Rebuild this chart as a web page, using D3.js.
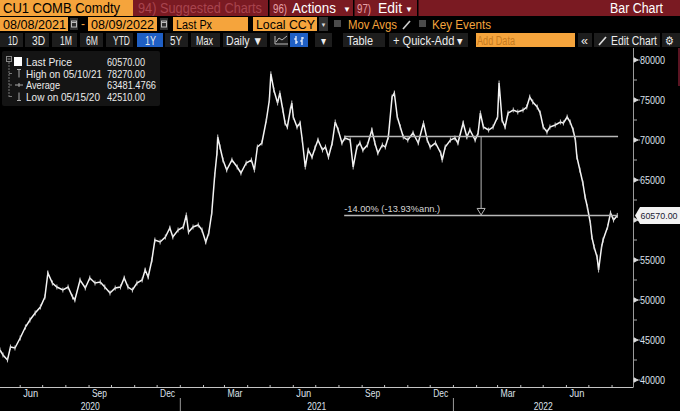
<!DOCTYPE html>
<html><head><meta charset="utf-8">
<script src="https://cdn.jsdelivr.net/npm/d3@7"></script>
<style>
html,body{margin:0;padding:0;background:#000;overflow:hidden;}
svg{display:block;}
text{font-family:"Liberation Sans",Arial,sans-serif;}
</style></head><body>
<svg id="c" width="680" height="411"></svg>
<script>
// ---------------- DATA ----------------
const dates = ["2020-05-05","2020-05-09","2020-05-15","2020-05-19","2020-05-25","2020-06-01","2020-06-08","2020-06-14","2020-06-21","2020-06-28",
"2020-07-04","2020-07-08","2020-07-14","2020-07-20","2020-07-28","2020-08-04","2020-08-10","2020-08-13","2020-08-20","2020-08-27",
"2020-09-02","2020-09-09","2020-09-16","2020-09-22","2020-09-29","2020-10-06","2020-10-13","2020-10-18","2020-10-23","2020-10-29",
"2020-11-04","2020-11-11","2020-11-15","2020-11-19","2020-11-24","2020-11-28","2020-12-05","2020-12-12","2020-12-18","2020-12-22",
"2020-12-29","2021-01-05","2021-01-09","2021-01-12","2021-01-18","2021-01-25","2021-01-30","2021-02-04","2021-02-08","2021-02-12",
"2021-02-16","2021-02-19","2021-02-20","2021-02-23","2021-02-27","2021-03-04","2021-03-11","2021-03-18","2021-03-23","2021-03-30",
"2021-04-06","2021-04-10","2021-04-14","2021-04-20","2021-04-26","2021-04-30","2021-05-02","2021-05-06","2021-05-11","2021-05-14",
"2021-05-18","2021-05-21","2021-05-24","2021-05-28","2021-05-30","2021-06-01","2021-06-06","2021-06-10","2021-06-13","2021-06-17",
"2021-06-21","2021-06-26","2021-06-30","2021-07-04","2021-07-10","2021-07-14","2021-07-18","2021-07-23","2021-07-27","2021-07-31",
"2021-08-05","2021-08-09","2021-08-16","2021-08-20","2021-08-25","2021-08-29","2021-09-02","2021-09-08","2021-09-14","2021-09-18",
"2021-09-22","2021-09-28","2021-10-02","2021-10-06","2021-10-11","2021-10-14","2021-10-18","2021-10-22","2021-10-26","2021-11-01",
"2021-11-08","2021-11-15","2021-11-22","2021-11-27","2021-12-01","2021-12-08","2021-12-15","2021-12-17","2021-12-21","2021-12-28",
"2022-01-03","2022-01-07","2022-01-14","2022-01-19","2022-01-23","2022-01-30","2022-02-03","2022-02-06","2022-02-10","2022-02-17",
"2022-02-23","2022-03-01","2022-03-03","2022-03-07","2022-03-11","2022-03-15","2022-03-22","2022-03-28","2022-04-04","2022-04-09",
"2022-04-13","2022-04-17","2022-04-23","2022-04-27","2022-05-01","2022-05-06","2022-05-10","2022-05-17","2022-05-24","2022-05-28",
"2022-06-02","2022-06-06","2022-06-10","2022-06-13","2022-06-15","2022-06-19","2022-06-23","2022-06-26","2022-06-29","2022-07-03",
"2022-07-05","2022-07-08","2022-07-12","2022-07-14","2022-07-18","2022-07-20","2022-07-26","2022-07-30","2022-08-03","2022-08-08"];
const prices = [43750,43125,42510,44125,44000,45250,46625,47500,48375,49125,
50375,53375,52125,51625,51250,51625,50375,50000,52500,51500,
52750,52125,52250,51625,50875,51500,51625,52750,51625,51250,
52125,52500,53750,52875,55000,57500,57250,57875,59000,57875,
58750,59125,60625,58500,59125,59375,58750,57250,58375,60875,
65625,68375,70375,69125,67500,66250,67500,66625,65875,67125,
67500,66250,69125,69625,72500,75000,78270,76250,74625,75875,
73750,72125,71625,73750,74625,72875,71625,72125,70000,66625,
68750,67875,69000,70000,68750,69125,67875,69625,72250,71250,
69625,70250,70000,66625,69125,69625,68750,69375,71250,69625,
68375,69375,69125,70375,75375,75875,72875,71625,70375,70000,
70875,69625,72125,70000,69125,69625,68375,67500,69125,70000,
70250,69625,72125,70375,71250,70000,70875,73375,71625,71250,
71625,72875,77125,72500,71625,73375,73750,73500,73750,74125,
75375,74750,74125,73375,71625,71000,71625,71875,72250,72125,
72875,72250,71250,70000,67875,66250,64625,62875,61625,59625,
57875,56625,55375,53750,56625,57500,59125,60875,60000,60570];
const yTicks = [40000,45000,50000,55000,60000,65000,70000,75000,80000];
const yMinorTicks = [42500,47500,52500,57500,62500,67500,72500,77500];
const years = [2020,2021,2022];
const legendLabels = ["Last Price","High on 05/10/21","Average","Low on 05/15/20"];
const legendValues = ["60570.00","78270.00","63481.4766","42510.00"];
const rangeStart = "2021-08-08", rangeEnd = "2022-08-09";
const startPrice = 70430, lastPrice = 60570;
const lastPriceLabel = "60570.00";
const changeLabel = "-14.00% (-13.93%ann.)";

// ---------------- SETUP ----------------
const parse = d3.timeParse("%Y-%m-%d");
const data = dates.map((d,i)=>({date:parse(d), v:prices[i]}));
const svg = d3.select("#c");
svg.append("rect").attr("width",680).attr("height",411).attr("fill","#000");

const ORANGE="#f5a43c", RED="#7a1a22";
const plot = {left:0, right:633, top:48, bottom:387};
const x = d3.scaleTime().domain([parse("2020-05-05"), parse("2022-08-29")]).range([plot.left, plot.right]);
const y = d3.scaleLinear().domain([40000,80000]).range([380,60]);

function T(g, tx, ty, str, size, fill, len){
  const t = g.append("text").attr("x",tx).attr("y",ty).attr("font-size",size).attr("fill",fill).text(str);
  if (len) t.attr("textLength",len).attr("lengthAdjust","spacingAndGlyphs");
  return t;
}

// ---------------- HEADER ROW 1 ----------------
const h = svg.append("g");
h.append("rect").attr("x",133).attr("y",0).attr("width",547).attr("height",16).attr("fill",RED);
h.append("rect").attr("x",0).attr("y",0).attr("width",133).attr("height",16).attr("fill",ORANGE);
T(h,3,13,"CU1 COMB Comdty",14,"#000",117);
T(h,138,13,"94) Suggested Charts",14,"#a8444e",124);
[268,353,417].forEach(sx=>h.append("rect").attr("x",sx).attr("y",0).attr("width",1.5).attr("height",16).attr("fill","#000"));
T(h,273,13,"96)",12,"#e8a0a8",14);
T(h,292,13,"Actions",14,"#fff",44);
T(h,343,11.5,"▼",8,"#fff");
T(h,357,13,"97)",12,"#e8a0a8",14);
T(h,378,13,"Edit",14,"#fff",24);
T(h,405,11.5,"▼",8,"#fff");
T(h,610,13,"Bar Chart",14,"#fff",53);

// ---------------- HEADER ROW 2 ----------------
function orangeBox(x0,w,label,len){
  h.append("rect").attr("x",x0).attr("y",17).attr("width",w).attr("height",14).attr("fill",ORANGE);
  T(h,x0+3,28.5,label,12.5,"#000",len);
}
function calIcon(x0){
  h.append("rect").attr("x",x0).attr("y",18).attr("width",8).attr("height",12).attr("fill","#2e2e2e");
  h.append("rect").attr("x",x0+1.5).attr("y",21).attr("width",5).attr("height",6).attr("fill","none").attr("stroke","#bbb").attr("stroke-width",1);
  h.append("line").attr("x1",x0+1.5).attr("x2",x0+6.5).attr("y1",22.5).attr("y2",22.5).attr("stroke","#bbb");
}
orangeBox(0,68,"08/08/2021",63); calIcon(70);
T(h,81,28,"-",12,ORANGE);
orangeBox(88,69,"08/09/2022",63); calIcon(160);
orangeBox(173,75,"Last Px",36);
orangeBox(253,64,"Local CCY",59);
h.append("rect").attr("x",319).attr("y",17).attr("width",9).attr("height",14).attr("fill","#333");
T(h,320.5,27,"▼",6,"#ddd");
h.append("rect").attr("x",334).attr("y",20).attr("width",7).attr("height",7).attr("fill","#4a4a4a");
T(h,348,28.5,"Mov Avgs",12.5,ORANGE,49);
h.append("line").attr("x1",403).attr("y1",29).attr("x2",410).attr("y2",21).attr("stroke","#ccc").attr("stroke-width",1.6);
h.append("rect").attr("x",419).attr("y",20).attr("width",7).attr("height",7).attr("fill","#4a4a4a");
T(h,432,28.5,"Key Events",12.5,ORANGE,59);

// ---------------- HEADER ROW 3 ----------------
const buttons = [
 {t:"1D",x0:0,w:23,tx:8,tl:10},{t:"3D",x0:25,w:24,tx:32,tl:13},{t:"1M",x0:52,w:25,tx:60,tl:12},{t:"6M",x0:80,w:23,tx:86,tl:12},
 {t:"YTD",x0:106,w:27,tx:113,tl:17},{t:"1Y",x0:137,w:26,tx:145,tl:11,blue:true},{t:"5Y",x0:165,w:23,tx:170,tl:12},
 {t:"Max",x0:191,w:29,tx:196,tl:17},{t:"Daily ▼",x0:223,w:44,tx:226,tl:37},
 {t:"",x0:270,w:18},{t:"",x0:290,w:18,blue:true},{t:"▾",x0:315,w:17,tx:321,tl:5},{t:"Table",x0:343,w:42,tx:347,tl:26},
 {t:"+ Quick-Add ▾",x0:389,w:79,tx:393,tl:70},{t:"«",x0:578,w:14,tx:581,tl:7},{t:"Edit Chart",x0:594,w:66,tx:611,tl:46},{t:"⚙",x0:662,w:18,tx:665,tl:9}
];
buttons.forEach(b=>{
  h.append("rect").attr("x",b.x0).attr("y",33).attr("width",b.w).attr("height",14).attr("fill",b.blue?"#1f5fc4":"#1d1d1d");
  if(b.t) T(h,b.tx,44.5,b.t,12,"#ececec",b.tl);
});
h.append("path").attr("d","M275,44 L275,36 M275,44 L288,44 M276,42 L279,38 L282,40 L287,36").attr("stroke","#bbb").attr("fill","none").attr("stroke-width",1);
h.append("path").attr("d","M296,36 L296,44 M294,39 L296,39 M296,42 L298,42 M302,37 L302,45 M300,41 L302,41 M302,38 L304,38").attr("stroke","#fff").attr("fill","none").attr("stroke-width",1.2);
h.append("line").attr("x1",599).attr("y1",45).attr("x2",606).attr("y2",37).attr("stroke","#ddd").attr("stroke-width",1.6);
h.append("rect").attr("x",476).attr("y",33).attr("width",99).attr("height",14).attr("fill",ORANGE);
T(h,477,44.5,"Add Data",12.5,"#c67a1e",38);

// ---------------- AXES ----------------
const ax = svg.append("g");
const tp = y(lastPrice);
ax.append("line").attr("x1",plot.right+0.5).attr("x2",plot.right+0.5).attr("y1",plot.top).attr("y2",plot.bottom).attr("stroke","#9a9a9a");
yTicks.forEach(t=>{
  const ty=y(t);
  ax.append("path").attr("d",`M${plot.right+1},${ty-2.2} L${plot.right+5},${ty} L${plot.right+1},${ty+2.2} Z M${plot.right+4},${ty} L${plot.right+7},${ty}`)
    .attr("fill","#ddd").attr("stroke","#ddd").attr("stroke-width",0.8);
  if (Math.abs(ty-tp) > 10) T(ax,plot.right+7,ty+3.5,t,10,"#dde0ea",25);
});
yMinorTicks.forEach(t=>{
  ax.append("line").attr("x1",plot.right+1).attr("x2",plot.right+4).attr("y1",y(t)).attr("y2",y(t)).attr("stroke","#aaa");
});
ax.append("line").attr("x1",plot.left).attr("x2",plot.right+0.5).attr("y1",plot.bottom+0.5).attr("y2",plot.bottom+0.5).attr("stroke","#c4c4c4");
const months = d3.timeMonth.range(x.domain()[0], x.domain()[1]);
months.forEach(m=>{
  ax.append("line").attr("x1",x(m)).attr("x2",x(m)).attr("y1",plot.bottom-2).attr("y2",plot.bottom+1).attr("stroke","#c4c4c4");
});
months.filter(m=>[2,5,8,11].includes(m.getMonth())).forEach(m=>{
  const mid = new Date(m.getFullYear(), m.getMonth(), 15);
  T(ax,x(mid),plot.bottom+10,d3.timeFormat("%b")(m),10,"#dde0ea",15).attr("text-anchor","middle");
});
years.forEach(yr=>{
  const a = Math.max(x(new Date(yr,0,1)), plot.left), b = Math.min(x(new Date(yr+1,0,1)), plot.right);
  T(ax,(a+b)/2,409.5,yr,10.5,"#dde0ea",19).attr("text-anchor","middle");
  const jx = x(new Date(yr,0,1));
  if (jx>plot.left) ax.append("line").attr("x1",jx).attr("x2",jx).attr("y1",398).attr("y2",411).attr("stroke","#9a9a9a");
});
svg.append("rect").attr("x",678).attr("y",48).attr("width",2).attr("height",38).attr("fill","#5a1422");

// ---------------- SERIES ----------------
const line = d3.line().x(d=>x(d.date)).y(d=>y(d.v));
svg.append("path").datum(data).attr("d",line).attr("fill","none").attr("stroke","#f4f4f4").attr("stroke-width",1.5).attr("stroke-linejoin","miter");
svg.append("g").selectAll("line").data(data).join("line")
  .attr("x1",d=>x(d.date)).attr("x2",d=>x(d.date))
  .attr("y1",d=>y(d.v)-2.5).attr("y2",d=>y(d.v)+2.5).attr("stroke","#d8d8d8").attr("stroke-width",0.9);

// ---------------- ANNOTATION ----------------
const an = svg.append("g");
const xs = x(parse(rangeStart)), xe = x(parse(rangeEnd)), xm=(xs+xe)/2;
const ys = y(startPrice), ye = y(lastPrice);
an.append("line").attr("x1",xs).attr("x2",xe).attr("y1",ys).attr("y2",ys).attr("stroke","#b8b8b8").attr("stroke-width",1.6);
an.append("line").attr("x1",xs).attr("x2",xe).attr("y1",ye).attr("y2",ye).attr("stroke","#b8b8b8").attr("stroke-width",1.4);
an.append("line").attr("x1",xm).attr("x2",xm).attr("y1",ys).attr("y2",ye-7).attr("stroke","#b8b8b8").attr("stroke-width",1);
an.append("path").attr("d",`M${xm-4},${ye-7} L${xm+4},${ye-7} L${xm},${ye-0.5} Z`).attr("fill","#000").attr("stroke","#b8b8b8").attr("stroke-width",1);
T(an,xs,ye-3,changeLabel,9.5,"#d4d4d4",96);

// last price tag
svg.append("path").attr("d",`M${plot.right+2},${tp} L${plot.right+7},${tp-8.5} L680,${tp-8.5} L680,${tp+8.5} L${plot.right+7},${tp+8.5} Z`).attr("fill","#f2f2f2");
T(svg,plot.right+7.5,tp+3.8,lastPriceLabel,9,"#1c2232",37);

// ---------------- LEGEND ----------------
const lg = svg.append("g");
lg.append("rect").attr("x",2).attr("y",51).attr("width",158).attr("height",55).attr("rx",2).attr("fill","#141414");
const rowY = [66,77.5,89,100.5];
const labelLens = [46,76,34,74], valueLens = [38,38,49,38];
lg.append("rect").attr("x",6.5).attr("y",56.5).attr("width",5).attr("height",5).attr("fill","none").attr("stroke","#888");
lg.append("line").attr("x1",7.5).attr("x2",10.5).attr("y1",59).attr("y2",59).attr("stroke","#888");
lg.append("line").attr("x1",9).attr("x2",9).attr("y1",62).attr("y2",98).attr("stroke","#777").attr("stroke-dasharray","2,1");
[rowY[1],rowY[2],rowY[3]].forEach(r=>lg.append("line").attr("x1",9).attr("x2",12).attr("y1",r-4).attr("y2",r-4).attr("stroke","#777"));
lg.append("rect").attr("x",14).attr("y",57).attr("width",8).attr("height",9).attr("fill","#fff");
lg.append("path").attr("d",`M17,${rowY[1]-8} L21,${rowY[1]-8} M19,${rowY[1]-8} L19,${rowY[1]}`).attr("stroke","#aaa").attr("fill","none");
lg.append("path").attr("d",`M15,${rowY[2]-4} L23,${rowY[2]-4} M19,${rowY[2]-6} L19,${rowY[2]-2}`).attr("stroke","#aaa").attr("fill","none");
lg.append("path").attr("d",`M19,${rowY[3]-8} L19,${rowY[3]} M17,${rowY[3]} L21,${rowY[3]}`).attr("stroke","#aaa").attr("fill","none");
legendLabels.forEach((l,i)=>{
  T(lg,26,rowY[i],l,11,"#ececec",labelLens[i]);
  T(lg,107,rowY[i],legendValues[i],11,"#ececec",valueLens[i]);
});
</script>
</body></html>
